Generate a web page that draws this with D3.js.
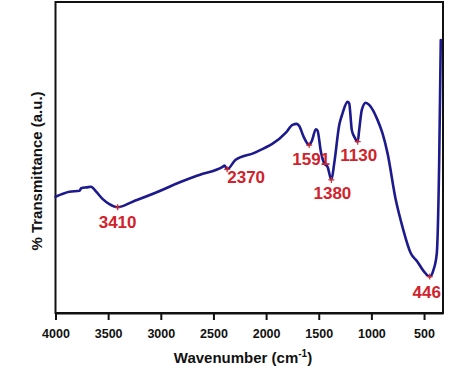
<!DOCTYPE html>
<html><head><meta charset="utf-8">
<script src="https://cdn.jsdelivr.net/npm/d3@7"></script>
<style>body{margin:0;background:#fff}svg{display:block}text{font-family:Arial,"Liberation Sans",sans-serif;font-weight:bold}</style>
</head><body><svg id="c" width="474" height="379"></svg>
<script>
const wavenumber = [4000,3867,3772,3756,3703,3662,3614,3551,3488,3410,3267,2950,2918,2634,2413,2394,2370,2292,2112,1812,1749,1708,1685,1644,1591,1565,1527,1511,1480,1448,1416,1380,1353,1305,1274,1227,1211,1186,1163,1130,1116,1091,1053,1021,942,895,847,768,705,626,563,500,446,411,379,357,341];
const transmittance = [37.4,39.0,39.3,40.1,40.4,40.6,39.0,36.6,35.0,34.0,35.8,40.1,40.6,44.4,47.0,47.4,46.2,49.2,51.5,58.0,60.5,60.8,60.1,56.7,54.0,55.4,59.1,58.6,51.9,48.1,47.0,42.8,48.1,60.5,64.2,67.9,67.4,58.8,56.7,55.1,58.8,65.3,67.6,66.9,62.1,57.8,51.4,36.3,27.7,19.2,16.5,13.3,11.7,13.8,19.2,47.0,87.8];
const peakLabels = ["3410","2370","1591","1380","1130","446"];
const peakWavenumber = [3410,2370,1591,1380,1130,446];
const peakTransmittance = [34.0,46.2,54.0,42.8,55.1,11.7];
const xTicks = [4000,3500,3000,2500,2000,1500,1000,500];
const xTitle = "Wavenumber (cm";
const yTitle = "% Transmittance (a.u.)";

const svg = d3.select("#c");
const L = 55.5, R = 443, T = 2, B = 313;
const x = d3.scaleLinear().domain([4000, 320]).range([L, R]);
const y = d3.scaleLinear().domain([0, 100]).range([B, T]);

svg.append("rect").attr("x", L).attr("y", T).attr("width", R - L).attr("height", B - T)
  .attr("fill", "none").attr("stroke", "#111").attr("stroke-width", 2);

const ax = svg.append("g").attr("transform", `translate(0,${B})`)
  .call(d3.axisBottom(x).tickValues(xTicks).tickSize(7).tickSizeOuter(0).tickFormat(d3.format("d")));
ax.select(".domain").attr("stroke", "#111").attr("stroke-width", 2);
ax.selectAll(".tick line").attr("stroke", "#111").attr("stroke-width", 2);
ax.selectAll(".tick text").attr("fill", "#111").attr("font-size", 12.5).attr("dy", 0).attr("y", 24.5)
  .style("font-family", "Arial, 'Liberation Sans', sans-serif").style("font-weight", "bold");

const xt = svg.append("text").attr("x", 243).attr("y", 363).attr("text-anchor", "middle")
  .attr("font-size", 15).attr("fill", "#111");
xt.append("tspan").text(xTitle);
xt.append("tspan").attr("font-size", 10).attr("dy", -6).text("-1");
xt.append("tspan").attr("dy", 6).text(")");

svg.append("text").attr("transform", "translate(42,171) rotate(-90)").attr("text-anchor", "middle")
  .attr("font-size", 15).attr("fill", "#111").text(yTitle);

const pts = wavenumber.map((w, i) => [w, transmittance[i]]);
svg.append("path").datum(pts)
  .attr("fill", "none").attr("stroke", "#1c1a8c").attr("stroke-width", 2.6)
  .attr("stroke-linejoin", "round").attr("stroke-linecap", "round")
  .attr("d", d3.line().x(d => x(d[0])).y(d => y(d[1])).curve(d3.curveMonotoneX));

const labelOffset = {"3410":[0,21],"2370":[19,14],"1591":[2,20],"1380":[1,19],"1130":[1,19],"446":[-3,21]};
peakLabels.forEach((lab, i) => {
  const px = x(peakWavenumber[i]), py = y(peakTransmittance[i]);
  svg.append("path").attr("d", `M${px-3},${py}H${px+3}M${px},${py-3}V${py+3}`)
    .attr("stroke", "#d42a2a").attr("stroke-width", 1.2);
  const o = labelOffset[lab];
  svg.append("text").attr("x", px + o[0]).attr("y", py + o[1]).attr("text-anchor", "middle")
    .attr("font-size", 17).attr("fill", "#d0232b").text(lab);
});
</script></body></html>
